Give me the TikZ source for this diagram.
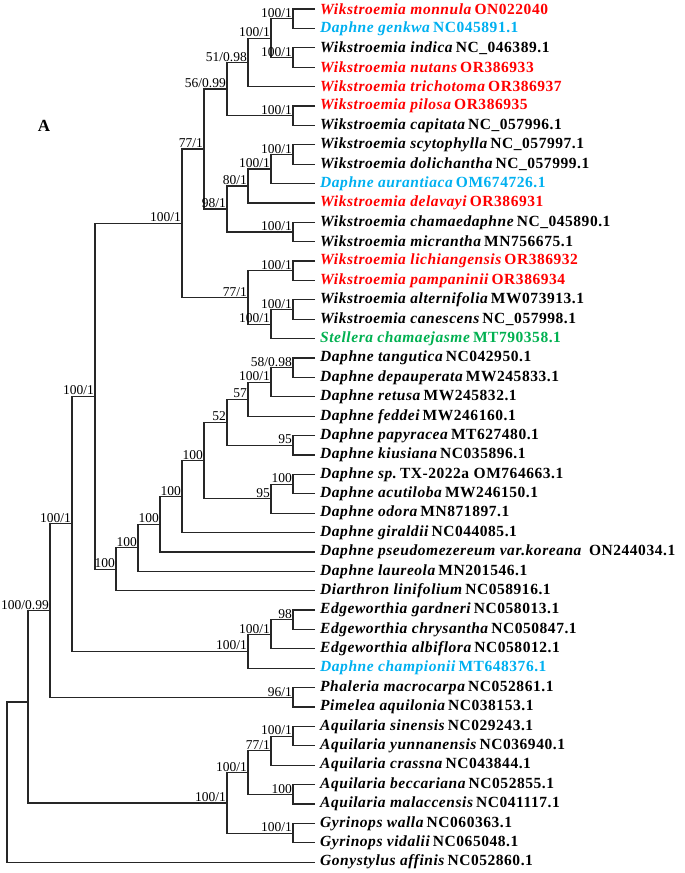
\documentclass[tikz,border=0pt]{standalone}
\usepackage{fontspec}
\setmainfont{Liberation Serif}
\newfontfamily\tipfont[LetterSpace=3.5]{Liberation Serif}
\definecolor{wred}{RGB}{255,0,0}
\definecolor{wblue}{RGB}{0,176,240}
\definecolor{wgreen}{RGB}{0,176,80}
\newcommand\tp[4]{%
  \coordinate (e#1) at (315,{9+(#1-1)*19.39});
  \node[tiplab,text=#4] (t#1) at (e#1) {\textit{#2}\,#3};}
\newcommand\bl[2]{\node[blab] (l#1) at (#1) {#2};}
\begin{document}
\begin{tikzpicture}[x=1pt,y=-1pt,
  tiplab/.style={anchor=west,inner sep=0pt,xshift=5pt,font=\tipfont\fontsize{15.5}{16}\selectfont\bfseries},
  blab/.style={anchor=south east,inner sep=1pt,font=\fontsize{13.5}{14}\selectfont},
  br/.style={draw=black!85,line width=1.2pt}]
\useasboundingbox (0,0) rectangle (685,873);
\tp{1}{Wikstroemia monnula}{ON022040}{wred}
\tp{2}{Daphne genkwa}{NC045891.1}{wblue}
\tp{3}{Wikstroemia indica}{NC\_046389.1}{black}
\tp{4}{Wikstroemia nutans}{OR386933}{wred}
\tp{5}{Wikstroemia trichotoma}{OR386937}{wred}
\tp{6}{Wikstroemia pilosa}{OR386935}{wred}
\tp{7}{Wikstroemia capitata}{NC\_057996.1}{black}
\tp{8}{Wikstroemia scytophylla}{NC\_057997.1}{black}
\tp{9}{Wikstroemia dolichantha}{NC\_057999.1}{black}
\tp{10}{Daphne aurantiaca}{OM674726.1}{wblue}
\tp{11}{Wikstroemia delavayi}{OR386931}{wred}
\tp{12}{Wikstroemia chamaedaphne}{NC\_045890.1}{black}
\tp{13}{Wikstroemia micrantha}{MN756675.1}{black}
\tp{14}{Wikstroemia lichiangensis}{OR386932}{wred}
\tp{15}{Wikstroemia pampaninii}{OR386934}{wred}
\tp{16}{Wikstroemia alternifolia}{MW073913.1}{black}
\tp{17}{Wikstroemia canescens}{NC\_057998.1}{black}
\tp{18}{Stellera chamaejasme}{MT790358.1}{wgreen}
\tp{19}{Daphne tangutica}{NC042950.1}{black}
\tp{20}{Daphne depauperata}{MW245833.1}{black}
\tp{21}{Daphne retusa}{MW245832.1}{black}
\tp{22}{Daphne feddei}{MW246160.1}{black}
\tp{23}{Daphne papyracea}{MT627480.1}{black}
\tp{24}{Daphne kiusiana}{NC035896.1}{black}
\tp{25}{Daphne sp.}{TX-2022a\ OM764663.1}{black}
\tp{26}{Daphne acutiloba}{MW246150.1}{black}
\tp{27}{Daphne odora}{MN871897.1}{black}
\tp{28}{Daphne giraldii}{NC044085.1}{black}
\tp{29}{Daphne pseudomezereum var.koreana}{\ ON244034.1}{black}
\tp{30}{Daphne laureola}{MN201546.1}{black}
\tp{31}{Diarthron linifolium}{NC058916.1}{black}
\tp{32}{Edgeworthia gardneri}{NC058013.1}{black}
\tp{33}{Edgeworthia chrysantha}{NC050847.1}{black}
\tp{34}{Edgeworthia albiflora}{NC058012.1}{black}
\tp{35}{Daphne championii}{MT648376.1}{wblue}
\tp{36}{Phaleria macrocarpa}{NC052861.1}{black}
\tp{37}{Pimelea aquilonia}{NC038153.1}{black}
\tp{38}{Aquilaria sinensis}{NC029243.1}{black}
\tp{39}{Aquilaria yunnanensis}{NC036940.1}{black}
\tp{40}{Aquilaria crassna}{NC043844.1}{black}
\tp{41}{Aquilaria beccariana}{NC052855.1}{black}
\tp{42}{Aquilaria malaccensis}{NC041117.1}{black}
\tp{43}{Gyrinops walla}{NC060363.1}{black}
\tp{44}{Gyrinops vidalii}{NC065048.1}{black}
\tp{45}{Gonystylus affinis}{NC052860.1}{black}
% internal nodes
\coordinate (A) at (293,18.7);
\coordinate (B) at (293,57.5);
\coordinate (C) at (271,38.1);
\coordinate (D) at (248,62.4);
\coordinate (E) at (293,115.6);
\coordinate (F) at (227,89.0);
\coordinate (G) at (293,154.4);
\coordinate (H) at (271,169.0);
\coordinate (I) at (248,185.9);
\coordinate (J) at (293,232.0);
\coordinate (K) at (227,209.0);
\coordinate (L) at (204,149.0);
\coordinate (M) at (293,270.8);
\coordinate (N) at (293,309.6);
\coordinate (O) at (271,324.1);
\coordinate (P) at (248,297.4);
\coordinate (Q) at (182,223.2);
\coordinate (R) at (293,367.7);
\coordinate (S) at (271,382.3);
\coordinate (T) at (248,399.2);
\coordinate (U) at (293,445.3);
\coordinate (V) at (227,422.3);
\coordinate (W) at (293,484.1);
\coordinate (X) at (271,498.6);
\coordinate (Y) at (204,460.5);
\coordinate (Z) at (182,496.5);
\coordinate (AA) at (160,524.2);
\coordinate (AB) at (138,547.8);
\coordinate (AC) at (116,569.2);
\coordinate (BB) at (95,396.2);
\coordinate (ED1) at (293,619.8);
\coordinate (ED2) at (271,634.4);
\coordinate (ED3) at (248,651.3);
\coordinate (CC) at (72,523.8);
\coordinate (PH) at (293,697.4);
\coordinate (DD) at (50,610.6);
\coordinate (AQ1) at (293,736.2);
\coordinate (AQ2) at (271,750.8);
\coordinate (AQ3) at (293,794.4);
\coordinate (AQ4) at (248,772.6);
\coordinate (GY) at (293,833.2);
\coordinate (AQ5) at (227,802.9);
\coordinate (EE) at (28,702);
\coordinate (RT) at (7,782);
% branches
\begin{scope}[br]
\draw (e1) -| (A) |- (e2);
\draw (e3) -| (B) |- (e4);
\draw (A) -| (C) |- (B);
\draw (C) -| (D) |- (e5);
\draw (e6) -| (E) |- (e7);
\draw (D) -| (F) |- (E);
\draw (e8) -| (G) |- (e9);
\draw (G) -| (H) |- (e10);
\draw (H) -| (I) |- (e11);
\draw (e12) -| (J) |- (e13);
\draw (I) -| (K) |- (J);
\draw (F) -| (L) |- (K);
\draw (e14) -| (M) |- (e15);
\draw (e16) -| (N) |- (e17);
\draw (N) -| (O) |- (e18);
\draw (M) -| (P) |- (O);
\draw (L) -| (Q) |- (P);
\draw (e19) -| (R) |- (e20);
\draw (R) -| (S) |- (e21);
\draw (S) -| (T) |- (e22);
\draw (e23) -| (U) |- (e24);
\draw (T) -| (V) |- (U);
\draw (e25) -| (W) |- (e26);
\draw (W) -| (X) |- (e27);
\draw (V) -| (Y) |- (X);
\draw (Y) -| (Z) |- (e28);
\draw (Z) -| (AA) |- (e29);
\draw (AA) -| (AB) |- (e30);
\draw (AB) -| (AC) |- (e31);
\draw (Q) -| (BB) |- (AC);
\draw (e32) -| (ED1) |- (e33);
\draw (ED1) -| (ED2) |- (e34);
\draw (ED2) -| (ED3) |- (e35);
\draw (BB) -| (CC) |- (ED3);
\draw (e36) -| (PH) |- (e37);
\draw (CC) -| (DD) |- (PH);
\draw (e38) -| (AQ1) |- (e39);
\draw (AQ1) -| (AQ2) |- (e40);
\draw (e41) -| (AQ3) |- (e42);
\draw (AQ2) -| (AQ4) |- (AQ3);
\draw (e43) -| (GY) |- (e44);
\draw (AQ4) -| (AQ5) |- (GY);
\draw (DD) -| (EE) |- (AQ5);
\draw (EE) -| (RT) |- (e45);
\end{scope}
% support labels
\bl{A}{100/1}\bl{B}{100/1}\bl{C}{100/1}\bl{D}{51/0.98}\bl{E}{100/1}
\bl{F}{56/0.99}\bl{G}{100/1}\bl{H}{100/1}\bl{I}{80/1}\bl{J}{100/1}
\bl{K}{98/1}\bl{L}{77/1}\bl{M}{100/1}\bl{N}{100/1}\bl{O}{100/1}
\bl{P}{77/1}\bl{Q}{100/1}\bl{R}{58/0.98}\bl{S}{100/1}\bl{T}{57}
\bl{U}{95}\bl{V}{52}\bl{W}{100}\bl{X}{95}\bl{Y}{100}\bl{Z}{100}
\bl{AA}{100}\bl{AB}{100}\bl{AC}{100}\bl{BB}{100/1}\bl{ED1}{98}
\bl{ED2}{100/1}\bl{ED3}{100/1}\bl{CC}{100/1}\bl{PH}{96/1}\bl{DD}{100/0.99}
\bl{AQ1}{100/1}\bl{AQ2}{77/1}\bl{AQ3}{100}\bl{AQ4}{100/1}\bl{GY}{100/1}
\bl{AQ5}{100/1}
\node[font=\fontsize{17}{17}\selectfont\bfseries] (panel) at (44,126) {A};
\end{tikzpicture}
\end{document}
